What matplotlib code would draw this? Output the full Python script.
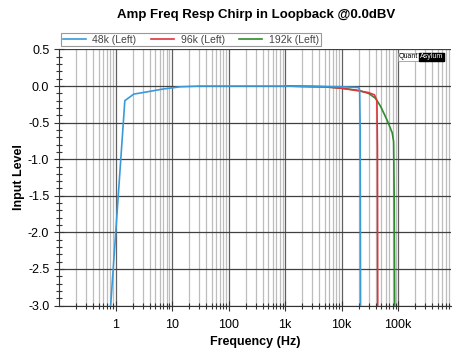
import numpy as np
import matplotlib
matplotlib.use("Agg")
import matplotlib.pyplot as plt
from matplotlib.ticker import FixedLocator, MultipleLocator, NullFormatter

plt.rcParams['font.family'] = ['Liberation Sans', 'DejaVu Sans']

# 48k (Left)
f48 = [0.82, 1.46, 2.1, 3.0, 4.2, 7.0, 14, 30, 100, 1000, 10000, 20000, 20800, 21300, 21600]
v48 = [-3.0, -0.2, -0.11, -0.09, -0.07, -0.04, -0.01, 0.0, 0.0, 0.0, -0.01, -0.02, -0.05, -0.6, -3.2]

# 96k (Left)
f96 = [1000, 5000, 10000, 20000, 30000, 38000, 42000, 43000, 43500]
v96 = [0.0, -0.01, -0.03, -0.065, -0.09, -0.12, -0.2, -0.85, -3.2]

# 192k (Left)
f192 = [1000, 5000, 10000, 20000, 30000, 40000, 49000, 64000, 78500, 83000, 85000, 87000]
v192 = [0.0, -0.01, -0.03, -0.06, -0.1, -0.17, -0.28, -0.47, -0.64, -0.76, -1.5, -3.2]

xticks = [1, 10, 100, 1000, 10000, 100000]
xlabels = ['1', '10', '100', '1k', '10k', '100k']

fig = plt.figure(figsize=(4.74, 3.55), dpi=100)
ax = fig.add_axes([0.1245, 0.1394, 0.827, 0.7212])

ax.plot(f192, v192, color='#2e8b2e', lw=1.2, label='192k (Left)', zorder=3)
ax.plot(f96, v96, color='#e0343c', lw=1.2, label='96k (Left)', zorder=4)
ax.plot(f48, v48, color='#3a9ad9', lw=1.2, label='48k (Left)', zorder=5)

ax.set_xscale('log')
ax.set_xlim(0.1, 860000)
ax.set_ylim(-3.0, 0.5)

ax.xaxis.set_major_locator(FixedLocator(xticks))
ax.set_xticklabels(xlabels)
minors = [m * 10.0 ** e for e in range(-1, 6) for m in range(2, 10)]
ax.xaxis.set_minor_locator(FixedLocator(minors))
ax.xaxis.set_minor_formatter(NullFormatter())
ax.yaxis.set_major_locator(MultipleLocator(0.5))
ax.yaxis.set_minor_locator(MultipleLocator(0.1))
ax.set_yticks(np.arange(-3.0, 0.51, 0.5))
ax.set_yticklabels(['%.1f' % v for v in np.arange(-3.0, 0.51, 0.5)])

ax.grid(True, which='major', axis='x', color='#606060', lw=0.9)
ax.grid(True, which='minor', axis='x', color='#bdbdbd', lw=0.9)
ax.grid(True, which='major', axis='y', color='#404040', lw=0.9)

ax.tick_params(which='both', direction='inout', colors='#333333', labelcolor='black', labelsize=9)
ax.tick_params(which='major', length=7, width=0.8)
ax.tick_params(which='minor', length=5, width=0.8)
ax.tick_params(axis='x', which='major', pad=6)
for s in ['top', 'right']:
    ax.spines[s].set_visible(False)
ax.spines['left'].set_color('#333333')
ax.spines['bottom'].set_color('#333333')

ax.set_xlabel('Frequency (Hz)', fontsize=9, fontweight='bold', labelpad=4)
ax.set_ylabel('Input Level', fontsize=9, fontweight='bold', labelpad=2)
fig.suptitle('Amp Freq Resp Chirp in Loopback @0.0dBV', fontsize=9.5, fontweight='bold', x=0.54, y=0.975)

h, l = ax.get_legend_handles_labels()
leg = ax.legend(h[::-1], l[::-1], loc='lower left', bbox_to_anchor=(0.0, 1.005), ncol=3,
                fontsize=7.5, frameon=True, fancybox=False, borderpad=0.15,
                handlelength=2.2, handletextpad=0.65, columnspacing=1.4, borderaxespad=0.2)
leg.get_frame().set_edgecolor('#808080')
leg.get_frame().set_linewidth(0.8)
for t in leg.get_texts():
    t.set_color('#444444')

ax.text(0.917, 0.985, 'Quant', transform=ax.transAxes, fontsize=5, color='black',
        ha='right', va='top', bbox=dict(facecolor='white', edgecolor='#888888', pad=0.5, lw=0.5), zorder=6)
ax.text(0.921, 0.985, 'Asylum', transform=ax.transAxes, fontsize=5, color='white',
        ha='left', va='top', bbox=dict(facecolor='black', edgecolor='black', pad=0.5), zorder=6)

fig.savefig('out.png', dpi=100)
